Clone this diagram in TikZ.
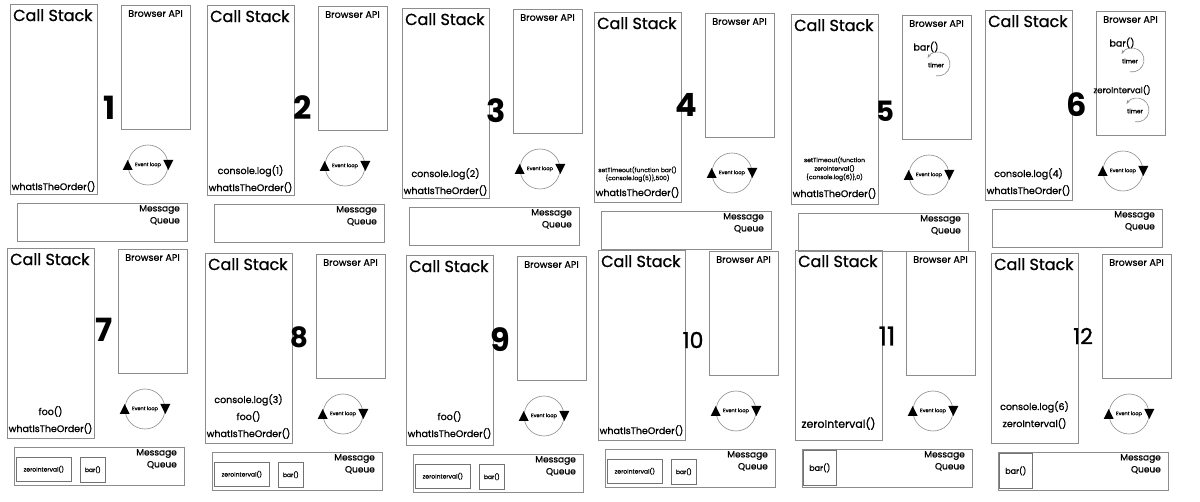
\documentclass[tikz,border=0pt]{standalone}
\usepackage{fontspec}
\setmainfont{Poppins}
\newfontfamily\med{Poppins}[FakeBold=0.9]
\usetikzlibrary{arrows.meta}
\tikzset{
  box/.style={draw=black!45,line width=0.7pt},
  ttl/.style={font=\med\fontsize{16}{16}\selectfont,inner sep=0pt},
  api/.style={font=\med\fontsize{9.5}{9.5}\selectfont,inner sep=0pt},
  stk/.style={font=\med\fontsize{9.5}{17}\selectfont,align=center,inner sep=0pt},
  num/.style={font=\bfseries\fontsize{32}{32}\selectfont,inner sep=0pt},
  qtxt/.style={font=\med\fontsize{9}{12}\selectfont,align=right,inner sep=0pt},
  item/.style={draw=black!55,line width=0.6pt,font=\med\fontsize{6}{6}\selectfont,inner sep=0pt,minimum height=24pt},
  timerarc/.style={draw=black!45,line width=0.6pt,-{Stealth[open,length=4pt]}},
}
% #1 name, #2 dx, #3 dy
\newcommand\mypanel[3]{%
  \begin{scope}[shift={(#2,#3)}]
    \draw[box] (0,0) rectangle (87,190);
    \node[ttl,anchor=north west] (#1cs) at (3,5) {Call Stack};
    \draw[box] (111,1) rectangle (180,125);
    \node[api,anchor=north] (#1ba) at (145.5,6) {Browser API};
    \node[draw=black!45,circle,minimum size=40pt,inner sep=0pt,line width=0.6pt,font=\med\fontsize{5}{5}\selectfont] (#1el) at (138,161) {Event loop};
    \fill (#1el.west) ++(-5,5) -- ++(10,0) -- ++(-5,-10) -- cycle;
    \fill (#1el.east) ++(-5,-5) -- ++(10,0) -- ++(-5,10) -- cycle;
    \draw[box] (7,199) rectangle (177,237);
    \node[qtxt,anchor=north east] (#1mq) at (170,201) {Message\\Queue};
  \end{scope}}
\newcommand\mytimer[3]{% name, x, y
  \draw[timerarc] (#2,#3) ++(100:12) arc[start angle=100,end angle=-150,radius=12];
  \node[font=\med\fontsize{6}{6}\selectfont,inner sep=0pt] (#1) at (#2-2,#3+1) {timer};}
\begin{document}
\begin{tikzpicture}[x=1pt,y=-1pt]
\useasboundingbox (0,0) rectangle (1200,502);
% row 1
\mypanel{a}{10}{4}
\mypanel{b}{207}{5}
\mypanel{c}{402}{8}
\mypanel{d}{594}{12}
\mypanel{e}{791}{14}
\mypanel{f}{985}{10}
% row 2
\mypanel{g}{7}{248}
\mypanel{h}{205}{253}
\mypanel{i}{406}{255}
\mypanel{j}{598}{250}
\mypanel{k}{795}{250}
\mypanel{l}{991}{253}
% numbers
\node[num] (n1) at (110,108) {1};
\node[num] (n2) at (303,108) {2};
\node[num] (n3) at (496,111) {3};
\node[num] (n4) at (686,105) {4};
\node[num,font=\bfseries\fontsize{28}{28}\selectfont] (n5) at (885,111) {5};
\node[num] (n6) at (1077,105) {6};
\node[num] (n7) at (104,330) {7};
\node[num,font=\bfseries\fontsize{28}{28}\selectfont] (n8) at (299,337) {8};
\node[num] (n9) at (500,340) {9};
\node[num,font=\med\fontsize{22}{22}\selectfont] (n10) at (693,340) {10};
\node[num,font=\med\fontsize{26}{26}\selectfont] (n11) at (887,336) {11};
\node[num,font=\med\fontsize{22}{22}\selectfont] (n12) at (1083,336) {12};
% stack contents
\node[stk,anchor=south] (s1) at (53.5,192) {whatIsTheOrder()};
\node[stk,anchor=south] (s2) at (250.5,193) {console.log(1)\\whatIsTheOrder()};
\node[stk,anchor=south] (s3) at (445.5,196) {console.log(2)\\whatIsTheOrder()};
\node[stk,anchor=south,font=\med\fontsize{6}{8}\selectfont] (s4a) at (637.5,182) {setTimeout(function bar()\\\{console.log(5)\},500)};
\node[stk,anchor=south] (s4) at (637.5,198) {whatIsTheOrder()};
\node[stk,anchor=south,font=\med\fontsize{6}{8.5}\selectfont] (s5a) at (834.5,181) {setTimeout(function\\zeroInterval()\\\{console.log(6)\},0)};
\node[stk,anchor=south] (s5) at (834.5,199) {whatIsTheOrder()};
\node[stk,anchor=south] (s6) at (1028.5,196) {console.log(4)\\whatIsTheOrder()};
\node[stk,anchor=south] (s7) at (50.5,434) {foo()\\whatIsTheOrder()};
\node[stk,anchor=south] (s8) at (248.5,439) {console.log(3)\\foo()\\whatIsTheOrder()};
\node[stk,anchor=south] (s9) at (449.5,439) {foo()\\whatIsTheOrder()};
\node[stk,anchor=south] (s10) at (641.5,436) {whatIsTheOrder()};
\node[stk,anchor=south,font=\med\fontsize{11}{17}\selectfont] (s11) at (838.5,430) {zeroInterval()};
\node[stk,anchor=south] (s12) at (1034.5,429) {console.log(6)\\zeroInterval()};
% browser API contents
\node[api] (b5) at (926,47) {bar()};
\mytimer{t5}{938}{64}
\node[api] (b6) at (1122,43) {bar()};
\mytimer{t6a}{1132}{60}
\node[api,font=\med\fontsize{8.5}{8.5}\selectfont] (z6) at (1122,90) {zeroInterval()};
\mytimer{t6b}{1137}{110}
% queue items
\foreach \p/\dx/\dy in {g/7/248,h/205/253,i/406/255,j/598/250}{
  \node[item,minimum width=55pt,anchor=north west] (\p q1) at (\dx+9,\dy+209) {zeroInterval()};
  \node[item,minimum width=25pt,minimum height=25pt,anchor=north west] (\p q2) at (\dx+73,\dy+209) {bar()};
}
\node[item,minimum width=33pt,minimum height=35pt,anchor=north west,font=\med\fontsize{8}{8}\selectfont] (kq) at (803,450) {bar()};
\node[item,minimum width=33pt,minimum height=35pt,anchor=north west,font=\med\fontsize{8}{8}\selectfont] (lq) at (999,453) {bar()};
\end{tikzpicture}
\end{document}
